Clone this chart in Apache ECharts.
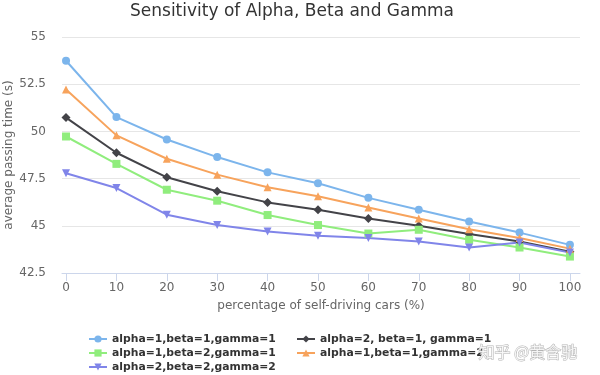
<!DOCTYPE html>
<html>
<head>
<meta charset="utf-8">
<script src="https://cdn.jsdelivr.net/npm/echarts@6/dist/echarts.min.js"></script>
<style>
  html, body { margin: 0; padding: 0; background: #fff; }
  #main { width: 600px; height: 375px; }
</style>
</head>
<body>
<div id="main"></div>
<script>
// percentage of self-driving cars
const xValues = [0, 10, 20, 30, 40, 50, 60, 70, 80, 90, 100];

const names = [
  'alpha=1,beta=1,gamma=1',
  'alpha=2, beta=1, gamma=1',
  'alpha=1,beta=2,gamma=1',
  'alpha=1,beta=1,gamma=2',
  'alpha=2,beta=2,gamma=2'
];

const a1b1g1 = [53.74, 50.76, 49.57, 48.64, 47.83, 47.25, 46.48, 45.85, 45.23, 44.64, 43.99];
const a2b1g1 = [50.73, 48.87, 47.57, 46.83, 46.24, 45.85, 45.39, 45.00, 44.56, 44.17, 43.63];
const a1b2g1 = [49.73, 48.28, 46.91, 46.33, 45.57, 45.04, 44.59, 44.79, 44.26, 43.85, 43.37];
const a1b1g2 = [52.22, 49.79, 48.55, 47.71, 47.04, 46.56, 45.97, 45.39, 44.82, 44.35, 43.79];
const a2b2g2 = [47.78, 47.00, 45.59, 45.04, 44.70, 44.47, 44.35, 44.17, 43.85, 44.11, 43.58];

const FONT = '"DejaVu Sans", Verdana, sans-serif';

function pairs(vals) {
  return vals.map((v, i) => [xValues[i], v]);
}

function makeSeries(name, vals, color, symbol, rotate) {
  return {
    name: name,
    type: 'line',
    data: pairs(vals),
    symbol: symbol,
    symbolSize: symbol === 'diamond' ? 9 : 8,
    symbolRotate: rotate || 0,
    color: color,
    lineStyle: { width: 2, color: color },
    itemStyle: { color: color },
    emphasis: { disabled: true },
    animation: false
  };
}

const chart = echarts.init(document.getElementById('main'), null, { renderer: 'canvas' });

const legendCommon = {
  orient: 'vertical',
  height: 60,
  padding: 0,
  itemWidth: 18,
  itemHeight: 9,
  itemGap: 0,
  textStyle: { color: '#333', fontWeight: 'bold', fontSize: 10.8, lineHeight: 14, fontFamily: FONT },
  selectedMode: false
};

chart.setOption({
  backgroundColor: '#fff',
  title: {
    text: 'Sensitivity of Alpha, Beta and Gamma',
    left: 125,
    top: -2,
    textStyle: { color: '#333', fontWeight: 'normal', fontSize: 17, fontFamily: FONT }
  },
  legend: [
    Object.assign({ left: 88, top: 332, data: [names[0], names[2], names[4]] }, legendCommon),
    Object.assign({ left: 296, top: 332, data: [names[1], names[3]] }, legendCommon)
  ],
  grid: { left: 62, right: 20, top: 37, bottom: 102, outerBoundsMode: 'none' },
  xAxis: {
    type: 'value',
    min: -0.8,
    max: 102,
    name: 'percentage of self-driving cars (%)',
    nameLocation: 'middle',
    nameGap: 27,
    nameTextStyle: { color: '#666', fontSize: 12, fontFamily: FONT },
    axisLine: { show: true, lineStyle: { color: '#ccd6eb', width: 1 } },
    axisTick: { show: true, length: 8, customValues: xValues, lineStyle: { color: '#ccd6eb' } },
    axisLabel: { customValues: xValues, color: '#666', fontSize: 12, fontFamily: FONT, margin: 9 },
    splitLine: { show: false }
  },
  yAxis: {
    type: 'value',
    min: 42.5,
    max: 55,
    interval: 2.5,
    axisLine: { show: false },
    axisTick: { show: false },
    axisLabel: { color: '#666', fontSize: 12, fontFamily: FONT, margin: 16 },
    splitLine: { lineStyle: { color: '#e6e6e6', width: 1 } }
  },
  series: [
    makeSeries(names[0], a1b1g1, '#7cb5ec', 'circle'),
    makeSeries(names[1], a2b1g1, '#434348', 'diamond'),
    makeSeries(names[2], a1b2g1, '#90ed7d', 'rect'),
    makeSeries(names[3], a1b1g2, '#f7a35c', 'triangle'),
    makeSeries(names[4], a2b2g2, '#8085e9', 'triangle', 180)
  ],
  graphic: [{
    // y axis title
    type: 'text',
    x: 9,
    y: 155,
    rotation: Math.PI / 2,
    style: {
      text: 'average passing time (s)',
      fill: '#666',
      align: 'center',
      verticalAlign: 'middle',
      font: '12px ' + FONT
    }
  }, {
    type: 'text',
    left: 478,
    top: 343,
    z: 100,
    style: {
      text: '知乎 @黄含驰',
      fill: 'rgba(255,255,255,0.85)',
      stroke: '#b4b4b4',
      lineWidth: 1,
      font: '16px "Noto Sans CJK SC", sans-serif'
    }
  }]
});
</script>
</body>
</html>
